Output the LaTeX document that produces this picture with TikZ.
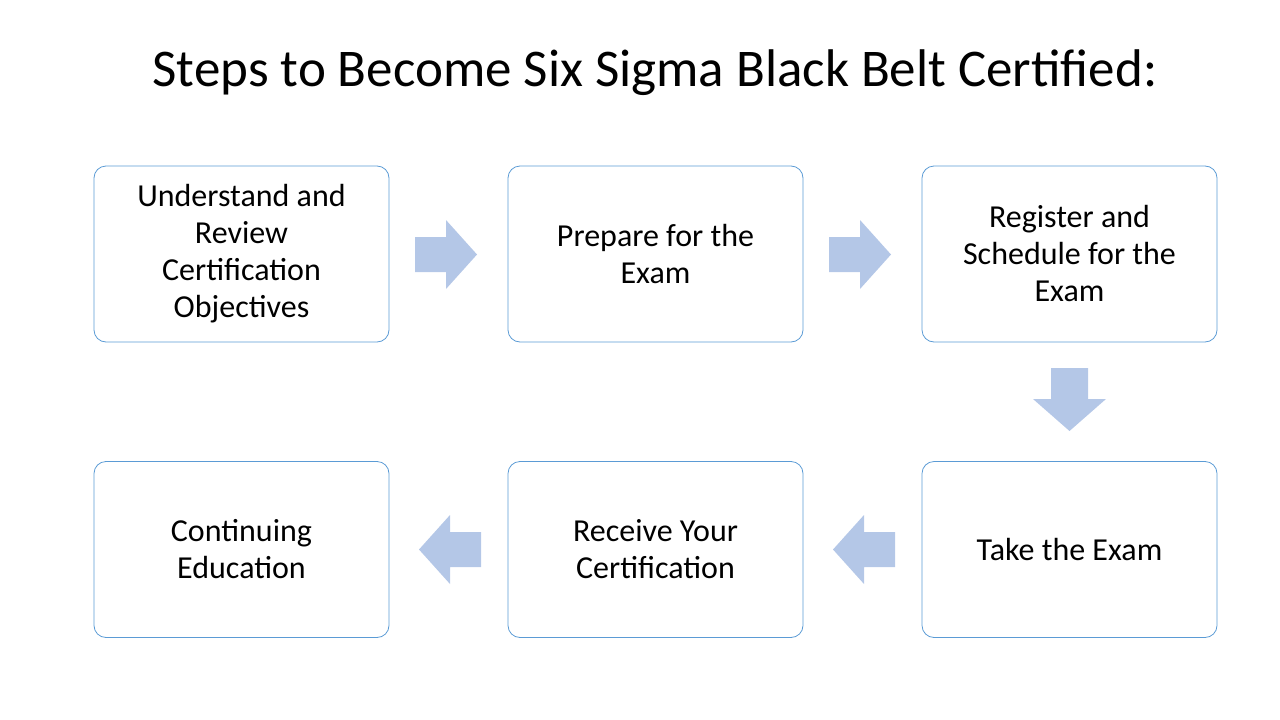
\documentclass[tikz,border=0pt]{standalone}
\usepackage{fontspec}
\setmainfont{Carlito}
\definecolor{bord}{HTML}{5B9BD5}
\definecolor{arr}{HTML}{B4C7E7}
\begin{document}
\begin{tikzpicture}[x=1pt,y=-1pt,
 box/.style={draw=bord,line width=0.8pt,rounded corners=12pt,minimum width=295pt,minimum height=176pt,align=center,font=\fontsize{32}{37}\selectfont,inner sep=0pt},
 ar/.style={fill=arr,draw=none}]
\useasboundingbox (0,0) rectangle (1280,720);
\node[font=\fontsize{53}{56}\selectfont] (t) at (655,73) {Steps to Become Six Sigma Black Belt Certified:};
\node[box] (b1) at (241.5,254) {Understand and\\Review\\Certification\\Objectives};
\node[box] (b2) at (655.5,254) {Prepare for the\\Exam};
\node[box] (b3) at (1069.5,254) {Register and\\Schedule for the\\Exam};
\node[box] (b4) at (1069.5,549.5) {Take the Exam};
\node[box] (b5) at (655.5,549.5) {Receive Your\\Certification};
\node[box] (b6) at (241.5,549.5) {Continuing\\Education};
\fill[ar] (415,237)--(446,237)--(446,220)--(477,254.5)--(446,289)--(446,272)--(415,272)--cycle;
\fill[ar] (829,237)--(860,237)--(860,220)--(891,254.5)--(860,289)--(860,272)--(829,272)--cycle;
\fill[ar] (1051,368)--(1088,368)--(1088,399)--(1106,399)--(1069.5,431)--(1033,399)--(1051,399)--cycle;
\fill[ar] (895,532)--(864,532)--(864,515)--(833,549.5)--(864,584)--(864,567)--(895,567)--cycle;
\fill[ar] (481,532)--(450,532)--(450,515)--(419,549.5)--(450,584)--(450,567)--(481,567)--cycle;
\end{tikzpicture}
\end{document}
